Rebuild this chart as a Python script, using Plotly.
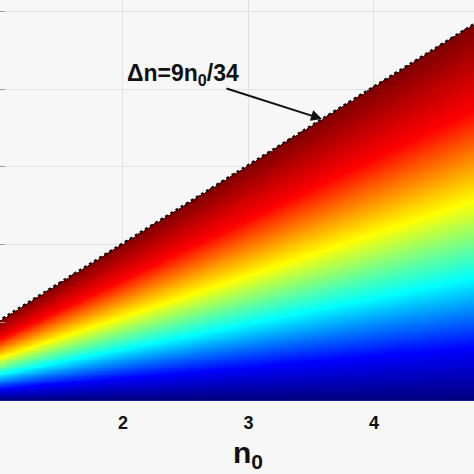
import numpy as np
import plotly.graph_objects as go

# Boundary of the region: delta_n = SLOPE_NUM * n0 / SLOPE_DEN
SLOPE_NUM = 9
SLOPE_DEN = 34
n0_range = [1.02, 4.797]          # visible n0 window
dn_range = [0.0, 1.351]           # visible delta-n window
x_tick_vals = [1, 2, 3, 4, 5]
x_tick_text = ["1", "2", "3", "4", "5"]
y_grid_step = 0.2625

# jet-like colour stops (fraction of the boundary value -> colour)
jet_stops = [
    [0.00, "rgb(0,0,125)"],
    [0.14, "rgb(0,0,255)"],
    [0.325, "rgb(0,255,255)"],
    [0.53, "rgb(255,255,0)"],
    [0.77, "rgb(255,0,0)"],
    [1.00, "rgb(125,0,0)"],
]

# grid of the colour field (ratio of delta_n to its maximum 9*n0/34)
n0_grid = np.linspace(1.0, 4.85, 520)
dn_grid = np.linspace(0.0, 1.36, 460)
N0, DN = np.meshgrid(n0_grid, dn_grid)
dn_max = SLOPE_NUM * N0 / SLOPE_DEN
ratio = DN / dn_max
ratio[ratio > 1.0] = np.nan

boundary_x = np.array([1.0, 4.85])
boundary_y = SLOPE_NUM * boundary_x / SLOPE_DEN

fig = go.Figure()
fig.add_trace(go.Heatmap(
    x=n0_grid, y=dn_grid, z=ratio,
    colorscale=jet_stops, zmin=0, zmax=1,
    showscale=False, hoverinfo="skip",
))
fig.add_trace(go.Scatter(
    x=boundary_x, y=boundary_y, mode="lines",
    line=dict(color="#111111", width=2.4, dash="dot"),
    showlegend=False, hoverinfo="skip",
))

head_x = 3.586
fig.add_annotation(
    x=2.478, y=1.101, xref="x", yref="y",
    text="Δn=9n<sub>0</sub>/34", showarrow=False,
    font=dict(family="Liberation Sans, Arial", size=23, color="#111111", weight="bold"),
)
fig.add_annotation(
    x=head_x, y=SLOPE_NUM * head_x / SLOPE_DEN, xref="x", yref="y",
    text="", showarrow=True, arrowhead=2, arrowsize=1.1, arrowwidth=2,
    arrowcolor="#111111", ax=-97, ay=-31,
)
fig.add_annotation(
    x=248 / 474, y=-0.135, xref="paper", yref="paper",
    text="<b>n<sub>0</sub></b>", showarrow=False,
    font=dict(family="Liberation Sans, Arial", size=30, color="#111111"),
    yanchor="middle",
)

fig.update_layout(
    width=474, height=474,
    margin=dict(l=0, r=0, t=0, b=74),
    paper_bgcolor="#f7f7f7", plot_bgcolor="#f7f7f7",
    showlegend=False,
)
fig.update_xaxes(
    range=n0_range, tickvals=x_tick_vals, ticktext=x_tick_text,
    showgrid=True, gridcolor="#e2e2e2", gridwidth=1,
    zeroline=False, ticks="", showline=True, linecolor="#1a1a8a", linewidth=1,
    ticklabelstandoff=6,
    tickfont=dict(family="Liberation Sans, Arial", size=18, color="#111111", weight="bold"),
)
fig.update_yaxes(
    range=dn_range, tick0=0, dtick=y_grid_step,
    showgrid=True, gridcolor="#e2e2e2", gridwidth=1,
    zeroline=False, showticklabels=False,
    ticks="inside", ticklen=5, tickcolor="#999999",
)

fig.write_html(
    "out.html",
    config={"displayModeBar": False},
    post_script="document.body.style.margin='0';document.body.style.overflow='hidden';",
)
